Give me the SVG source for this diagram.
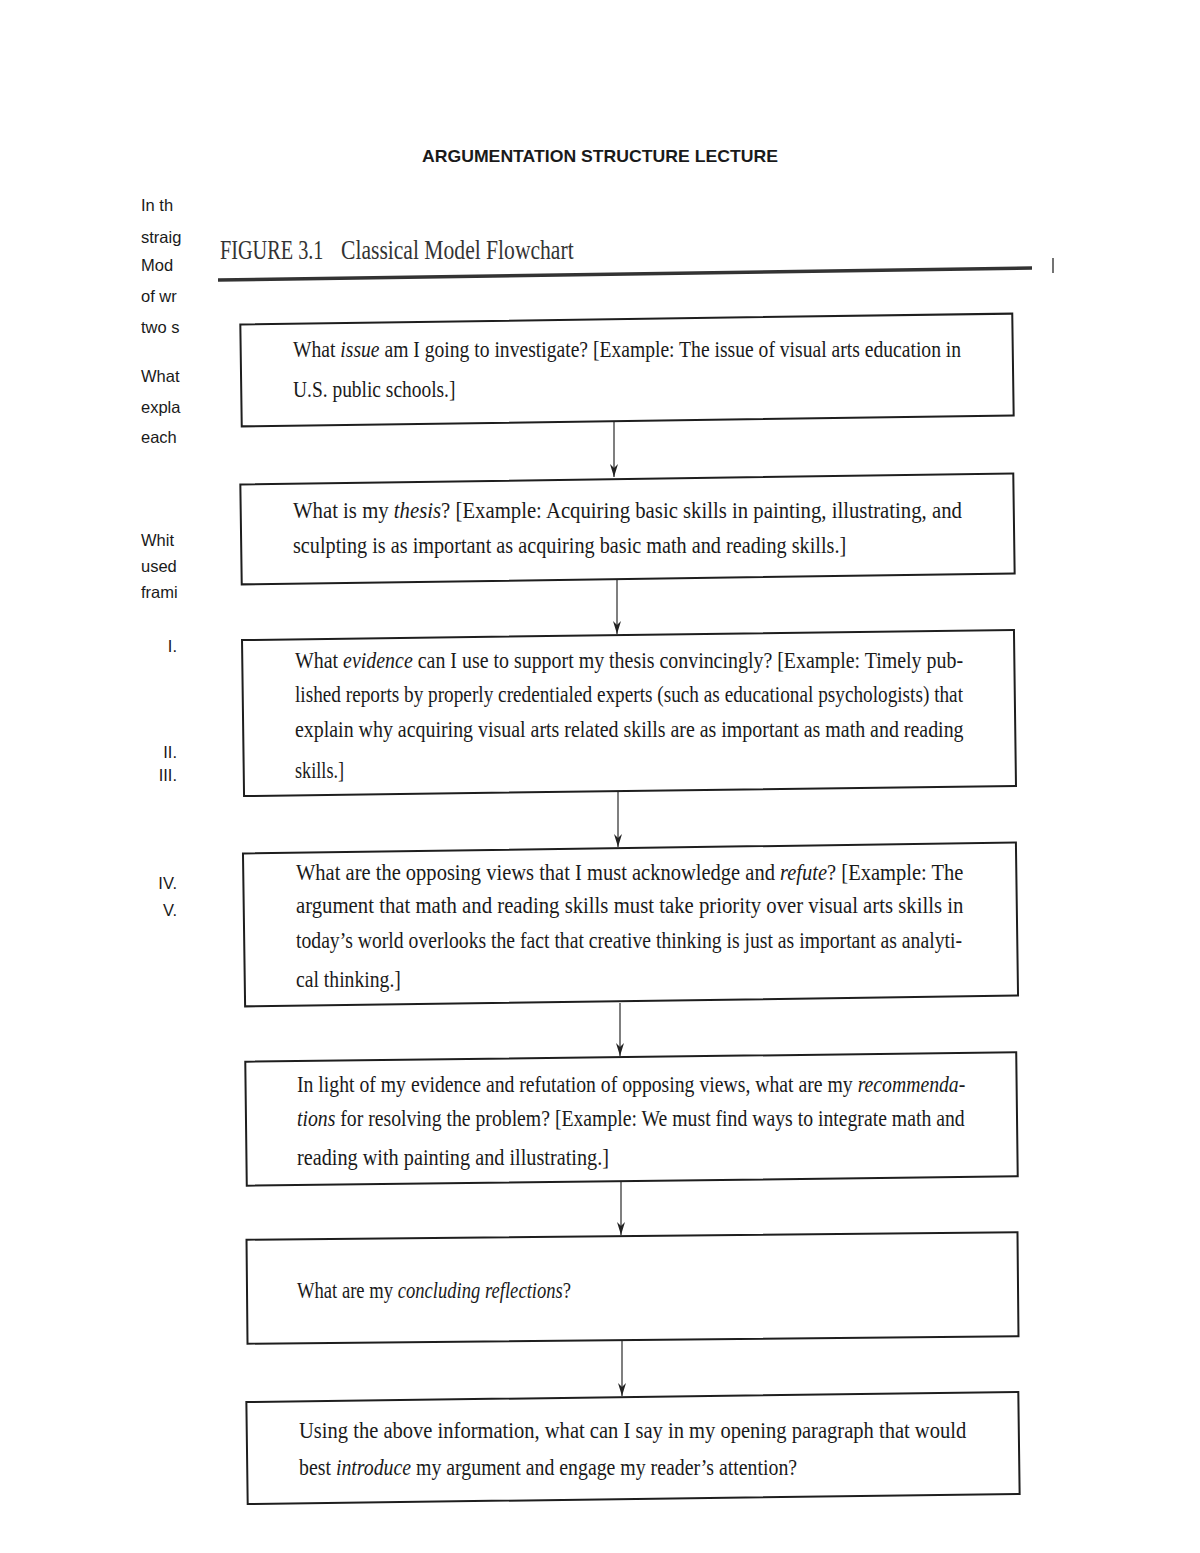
<svg xmlns="http://www.w3.org/2000/svg" width="1200" height="1553" viewBox="0 0 1200 1553">
<defs>
<style>
.sans{font-family:"Liberation Sans","Open Sans",Arial,sans-serif;fill:#1a1a1a}
.side{font-size:16.5px}
.ttl{font-size:17px;font-weight:bold}
.fig{font-family:"Liberation Serif","DejaVu Serif",serif;font-size:27px;fill:#333}
.bt{font-family:"Liberation Serif","DejaVu Serif",serif;font-size:24px;fill:#1a1a1a}
.it{font-style:italic}
.box{fill:#fff;stroke:#1e1e1e;stroke-width:2}
.conn{stroke:#555;stroke-width:1.5;fill:none}
</style>
<clipPath id="leftclip"><rect x="130" y="180" width="58" height="440"/></clipPath>
<marker id="ah" markerUnits="userSpaceOnUse" markerWidth="14" markerHeight="10" refX="13" refY="5" orient="auto" viewBox="0 0 14 10">
<path d="M0,1 L4,5 L0,9 L13,5 z" fill="#222"/>
</marker>
</defs>
<rect width="1200" height="1553" fill="#fff"/>

<text class="sans ttl" x="600" y="162" text-anchor="middle" textLength="356" lengthAdjust="spacingAndGlyphs">ARGUMENTATION STRUCTURE LECTURE</text>

<g id="side-text" class="sans side" clip-path="url(#leftclip)">
<text x="141" y="211">In th</text>
<text x="141" y="243">straig</text>
<text x="141" y="271">Mod</text>
<text x="141" y="302">of wr</text>
<text x="141" y="333">two s</text>
<text x="141" y="382">What</text>
<text x="141" y="413">expla</text>
<text x="141" y="443">each</text>
<text x="141" y="546">Whit</text>
<text x="141" y="572">used</text>
<text x="141" y="598">frami</text>
</g>
<g id="numerals" class="sans side" text-anchor="end">
<text x="177" y="652">I.</text>
<text x="177" y="758">II.</text>
<text x="177" y="781">III.</text>
<text x="177" y="889">IV.</text>
<text x="177" y="916">V.</text>
</g>
<line x1="1053" y1="258" x2="1053" y2="273" stroke="#444" stroke-width="1.5"/>

<g id="figure-title">
<text class="fig" transform="translate(220 259) scale(0.75 1)">FIGURE 3.1</text>
<text class="fig" transform="translate(341 259) scale(0.80 1)">Classical Model Flowchart</text>
<line x1="218" y1="280" x2="1032" y2="268" stroke="#333" stroke-width="3.5"/>
</g>

<g id="connectors">
<line class="conn" x1="614" y1="421" x2="614" y2="477" marker-end="url(#ah)"/>
<line class="conn" x1="617" y1="580" x2="617" y2="634" marker-end="url(#ah)"/>
<line class="conn" x1="618" y1="792" x2="618" y2="847" marker-end="url(#ah)"/>
<line class="conn" x1="620" y1="1003" x2="620" y2="1056" marker-end="url(#ah)"/>
<line class="conn" x1="621" y1="1182" x2="621" y2="1235" marker-end="url(#ah)"/>
<line class="conn" x1="622" y1="1341" x2="622" y2="1396" marker-end="url(#ah)"/>
</g>

<g id="node-issue">
<rect class="box" x="241" y="319" width="772" height="102" transform="rotate(-0.8 627 370)"/>
<text class="bt" transform="translate(293 357) scale(0.817 1)">What <tspan class="it">issue</tspan> am I going to investigate? [Example: The issue of visual arts education in</text>
<text class="bt" transform="translate(293 397) scale(0.81 1)">U.S. public schools.]</text>
</g>

<g id="node-thesis">
<rect class="box" x="241" y="479" width="773" height="100" transform="rotate(-0.8 627 529)"/>
<text class="bt" transform="translate(293 518) scale(0.865 1)">What is my <tspan class="it">thesis</tspan>? [Example: Acquiring basic skills in painting, illustrating, and</text>
<text class="bt" transform="translate(293 553) scale(0.843 1)">sculpting is as important as acquiring basic math and reading skills.]</text>
</g>

<g id="node-evidence">
<rect class="box" x="243" y="635" width="772" height="156" transform="rotate(-0.75 629 713)"/>
<text class="bt" transform="translate(295 668) scale(0.83 1)">What <tspan class="it">evidence</tspan> can I use to support my thesis convincingly? [Example: Timely pub-</text>
<text class="bt" transform="translate(295 702) scale(0.802 1)">lished reports by properly credentialed experts (such as educational psychologists) that</text>
<text class="bt" transform="translate(295 737) scale(0.83 1)">explain why acquiring visual arts related skills are as important as math and reading</text>
<text class="bt" transform="translate(295 778) scale(0.76 1)">skills.]</text>
</g>

<g id="node-refute">
<rect class="box" x="244" y="848" width="773" height="153" transform="rotate(-0.8 630 924)"/>
<text class="bt" transform="translate(296 880) scale(0.855 1)">What are the opposing views that I must acknowledge and <tspan class="it">refute</tspan>? [Example: The</text>
<text class="bt" transform="translate(296 913) scale(0.865 1)">argument that math and reading skills must take priority over visual arts skills in</text>
<text class="bt" transform="translate(296 948) scale(0.82 1)">today’s world overlooks the fact that creative thinking is just as important as analyti-</text>
<text class="bt" transform="translate(296 987) scale(0.82 1)">cal thinking.]</text>
</g>

<g id="node-recommend">
<rect class="box" x="246" y="1057" width="771" height="124" transform="rotate(-0.7 631 1119)"/>
<text class="bt" transform="translate(297 1092) scale(0.822 1)">In light of my evidence and refutation of opposing views, what are my <tspan class="it">recommenda-</tspan></text>
<text class="bt" transform="translate(297 1126) scale(0.822 1)"><tspan class="it">tions</tspan> for resolving the problem? [Example: We must find ways to integrate math and</text>
<text class="bt" transform="translate(297 1165) scale(0.844 1)">reading with painting and illustrating.]</text>
</g>

<g id="node-conclude">
<rect class="box" x="247" y="1236" width="771" height="104" transform="rotate(-0.55 632 1288)"/>
<text class="bt" transform="translate(297 1298) scale(0.775 1)">What are my <tspan class="it">concluding reflections</tspan>?</text>
</g>

<g id="node-introduce">
<rect class="box" x="247" y="1397" width="772" height="102" transform="rotate(-0.75 633 1448)"/>
<text class="bt" transform="translate(299 1438) scale(0.856 1)">Using the above information, what can I say in my opening paragraph that would</text>
<text class="bt" transform="translate(299 1475) scale(0.826 1)">best <tspan class="it">introduce</tspan> my argument and engage my reader’s attention?</text>
</g>
</svg>
